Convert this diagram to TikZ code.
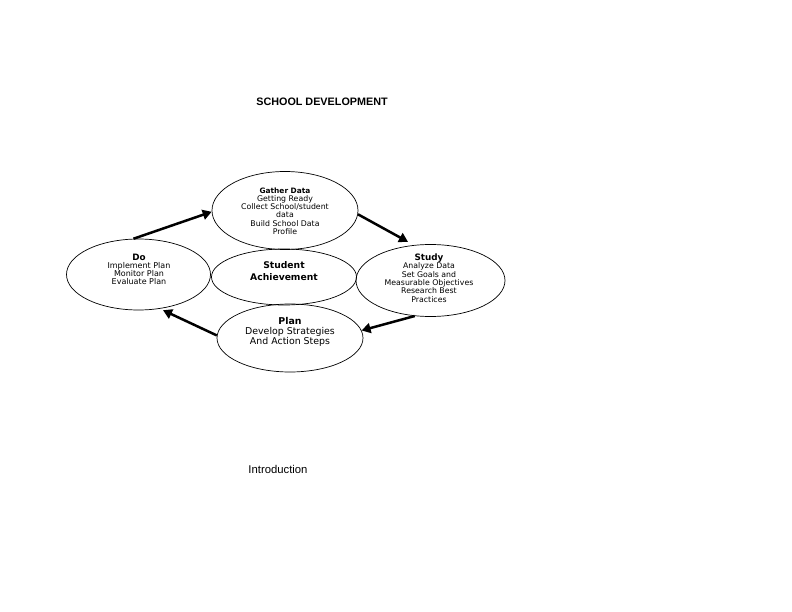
\documentclass[tikz,border=0pt]{standalone}
\usepackage{fontspec}
\setmainfont{Liberation Sans}
\newfontfamily\verd{DejaVu Sans}
\usetikzlibrary{shapes.geometric,arrows.meta}
\begin{document}
\begin{tikzpicture}[x=1pt,y=-1pt,
  oval/.style={draw,ellipse,line width=0.7pt,inner sep=0pt},
  txt/.style={align=center,font=\verd\fontsize{7.8}{8.3}\selectfont,inner sep=0pt},
  flow/.style={line width=2.5pt,-{Triangle[length=9pt,width=10pt]}}]
\useasboundingbox[fill=white] (0,0) rectangle (792,612);
\node[font=\bfseries\fontsize{10.8}{12}\selectfont] (title) at (322,102) {SCHOOL DEVELOPMENT};
\node[font=\fontsize{11.3}{12}\selectfont] (intro) at (278,469.5) {Introduction};
% ellipses
\node[oval,minimum width=146pt,minimum height=78pt] (gather) at (285,210.5) {};
\node[oval,minimum width=144pt,minimum height=71pt] (do) at (138.5,274.5) {};
\node[oval,minimum width=145pt,minimum height=56pt] (ach) at (284,277) {};
\node[oval,minimum width=149pt,minimum height=72pt] (study) at (430.5,280.5) {};
\node[oval,minimum width=146pt,minimum height=68pt] (plan) at (290,338) {};
% texts
\node[txt] (tg) at (285,211) {{\bfseries\fontsize{7.4}{8.3}\selectfont Gather Data}\\Getting Ready\\Collect School/student\\data\\Build School Data\\Profile};
\node[txt,font=\verd\fontsize{8}{8}\selectfont] (td) at (139,269) {{\bfseries\fontsize{8.8}{9}\selectfont Do}\\Implement Plan\\Monitor Plan\\Evaluate Plan};
\node[txt,font=\verd\bfseries\fontsize{9.2}{11.7}\selectfont] (ta) at (284,271) {Student\\Achievement};
\node[txt] (ts) at (429,278) {{\bfseries\fontsize{8.8}{9}\selectfont Study}\\Analyze Data\\Set Goals and\\Measurable Objectives\\Research Best\\Practices};
\node[txt,font=\verd\fontsize{9.4}{10.3}\selectfont] (tp) at (290,332) {{\bfseries Plan}\\Develop Strategies\\And Action Steps};
% arrows
\draw[flow] (do.98) -- (gather.181);
\draw[flow] (gather.-3) -- ([shift={(0,-4)}]study.123);
\draw[flow] (study.-114) -- (plan.6);
\draw[flow] (plan.178) -- ([shift={(0,2)}]do.-54);
\end{tikzpicture}
\end{document}
